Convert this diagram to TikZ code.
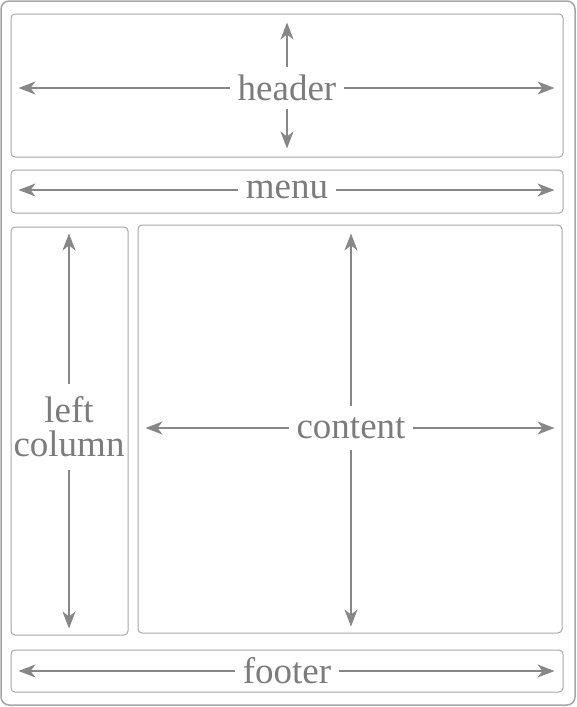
\documentclass[tikz,border=0pt]{standalone}
\usepackage{fontspec}
\setmainfont{Liberation Serif}
\usepackage{xcolor}
\usetikzlibrary{arrows.meta}
\definecolor{framegray}{HTML}{A6A6A6}
\definecolor{arrowgray}{HTML}{878787}
\definecolor{textgray}{HTML}{7C7C7C}

\begin{document}
\begin{tikzpicture}[x=1pt,y=-1pt,
  box/.style = {draw=framegray,line width=1pt,rounded corners=4pt,
        inner sep=0pt},
  lbl/.style = {text=textgray,inner sep=0pt,outer xsep=8pt,outer ysep=8pt,
        align=center,font=\fontsize{37}{34}\selectfont},
  arr/.style = {draw=arrowgray,line width=1.2pt,
        -{Stealth[length=17pt,width=13pt,inset=5pt]}}]
 \useasboundingbox (0,0) rectangle (576,707);
 \draw[draw=framegray,line width=1.5pt,rounded corners=8pt]
   (1,1) rectangle (575,705);

 % boxes
 \node[box,minimum width=552,minimum height=143] (hdr)  at(287,85.5)  {};
 \node[box,minimum width=552,minimum height=43]  (menu) at(287,191.5) {};
 \node[box,minimum width=117,minimum height=408] (left) at(69.5,431)  {};
 \node[box,minimum width=424,minimum height=408] (cont) at(350,429)   {};
 \node[box,minimum width=552,minimum height=42]  (foot) at(287,671)   {};

 % labels
 \node[lbl] (hdrt)  at(287,88)  {header};
 \node[lbl] (menut) at(287,190) {menu};
 \node[lbl,outer ysep=13pt] (leftt) at(69,427)  {left\\column};
 \node[lbl,outer ysep=11pt] (contt) at(351,428) {content};
 \node[lbl] (foott) at(287,671) {footer};

 % arrows
 \coordinate (hdrw) at ([xshift=8] hdr.west |- hdrt);
 \coordinate (hdre) at ([xshift=-9] hdr.east |- hdrt);
 \coordinate (hdrn) at ([yshift=-9] hdr.north -| hdrt);
 \coordinate (hdrs) at ([yshift=9] hdr.south -| hdrt);
 \coordinate (menuw) at ([xshift=8] menu.west |- menut);
 \coordinate (menue) at ([xshift=-9] menu.east |- menut);
 \coordinate (leftn) at ([yshift=-7] left.north -| leftt);
 \coordinate (lefts) at ([yshift=7] left.south -| leftt);
 \coordinate (contw) at ([xshift=8] cont.west |- contt);
 \coordinate (conte) at ([xshift=-8] cont.east |- contt);
 \coordinate (contn) at ([yshift=-9] cont.north -| contt);
 \coordinate (conts) at ([yshift=7] cont.south -| contt);
 \coordinate (footw) at ([xshift=8] foot.west |- foott);
 \coordinate (foote) at ([xshift=-9] foot.east |- foott);

 \foreach \a/\b in {hdrt.west/hdrw,hdrt.east/hdre,hdrt.north/hdrn,
     hdrt.south/hdrs,menut.west/menuw,menut.east/menue,
     leftt.north/leftn,leftt.south/lefts,contt.west/contw,
     contt.east/conte,contt.north/contn,contt.south/conts,
     foott.west/footw,foott.east/foote}
   \draw[arr] (\a) -- (\b);
\end{tikzpicture}
\end{document}
